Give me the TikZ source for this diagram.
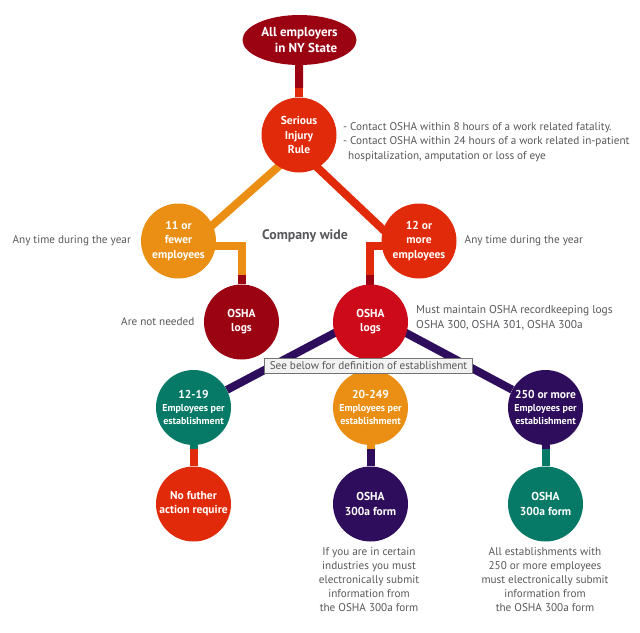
\documentclass[tikz,border=0pt]{standalone}
\usepackage{fontspec}
\setmainfont{PT Sans}
\usetikzlibrary{backgrounds,calc,shapes.geometric}
\definecolor{dred}{HTML}{9B0313}
\definecolor{ored}{HTML}{E12A09}
\definecolor{orng}{HTML}{EA8F14}
\definecolor{crim}{HTML}{CC0A1A}
\definecolor{teal2}{HTML}{067A66}
\definecolor{purp}{HTML}{2E0D5C}
\definecolor{gtxt}{HTML}{58585C}
\newcommand{\liftlines}[1]{\raisebox{2pt}{\begin{tabular}{@{}c@{}}#1\end{tabular}}}
\tikzset{
  x=1pt,y=-1pt,
  circ/.style={circle,minimum size=75pt,inner sep=0pt,text=white,align=center,font=\fontsize{11.5}{14.2}\selectfont\bfseries},
  smallcirc/.style={circ,font=\fontsize{10}{13.5}\selectfont\bfseries},
  note/.style={text=gtxt,font=\fontsize{11.2}{14.2}\selectfont,inner sep=0pt},
  link/.style={line width=8pt,line cap=butt,line join=miter},
}
\begin{document}
\begin{tikzpicture}
\useasboundingbox (0,0) rectangle (640,632);
\node[ellipse,minimum width=114pt,minimum height=50pt,inner sep=0pt,fill=dred,text=white,align=center,font=\fontsize{13}{15.5}\selectfont\bfseries] (top) at (299.5,40) {All employers\\\hspace*{13pt}in NY State};
\node[circ,fill=ored] (rule) at (299,135) {Serious\\Injury\\Rule};
\node[circ,fill=orng] (few) at (178.5,241) {\liftlines{11 or\\fewer\\employees}};
\node[circ,fill=ored] (many) at (419,241) {\liftlines{12 or\\more\\employees}};
\node[circ,fill=dred] (logsL) at (241.5,322) {OSHA\\logs};
\node[circ,fill=crim] (logsR) at (370.5,322) {OSHA\\logs};
\node[smallcirc,fill=teal2] (e12) at (193.5,407.5) {{\fontsize{11.5}{14}\selectfont 12-19}\\[-1pt]Employees per\\establishment};
\node[smallcirc,fill=orng] (e20) at (370.5,407.5) {{\fontsize{11.5}{14}\selectfont 20-249}\\[-1pt]Employees per\\establishment};
\node[smallcirc,fill=purp] (e250) at (545.5,407.5) {{\fontsize{11.5}{14}\selectfont 250 or more}\\[-1pt]Employees per\\establishment};
\node[circ,fill=ored] (none) at (193.5,504) {\liftlines{No futher\\action require}};
\node[circ,fill=purp] (f20) at (370.5,504) {OSHA\\300a form};
\node[circ,fill=teal2] (f250) at (545.5,504) {OSHA\\300a form};

\coordinate (m1) at (299,88);
\coordinate (c1) at (241.5,245.5);
\coordinate (c1b) at (241.5,275);
\coordinate (c2) at (370,245.5);
\coordinate (c2b) at (370,275);
\coordinate (m12) at (193.5,449);
\coordinate (m20) at (370.5,449);
\coordinate (m250) at (545.5,449);
\begin{scope}[on background layer]
\draw[link,dred] (top) -- (m1);
\draw[link,ored] (m1) -- (rule);
\draw[link,orng] ($(rule)+(15,0)$) -- ($(few)+(16,0)$);
\draw[link,ored] ($(rule)+(-16,0)$) -- ($(many)+(-24,0)$);
\draw[link,orng] (few.center |- c1) -- (c1) -- (c1b);
\draw[link,dred] (c1b) -- (logsL);
\draw[link,ored] (many.center |- c2) -- (c2) -- (c2b);
\draw[link,dred] (c2b) -- (c2b |- logsR);
\draw[link,purp] ($(logsR)+(0,-8)$) -- (e12);
\draw[link,purp] ($(logsR)+(0,-8)$) -- (e250);
\draw[link,teal2] (e12) -- (m12);
\draw[link,ored] (m12) -- (none);
\draw[link,orng] (e20) -- (m20);
\draw[link,purp] (m20) -- (f20);
\draw[link,purp] (e250) -- (m250);
\draw[link,teal2] (m250) -- (f250);
\end{scope}

\node[note,anchor=north west,align=left] (n1) at (343,122.5) {- Contact OSHA within 8 hours of a work related fatality.\\- Contact OSHA within 24 hours of a work related in-patient\\\hspace*{5pt}hospitalization, amputation or loss of eye};
\node[note,anchor=east] (n2) at (131,240.5) {Any time during the year};
\node[note,anchor=west] (n3) at (464.5,240.5) {Any time during the year};
\node[note,anchor=east] (n4) at (194.5,321.5) {Are not needed};
\node[note,anchor=north west,align=left,font=\fontsize{11.4}{14.2}\selectfont] (n5) at (416,305.5) {Must maintain OSHA recordkeeping logs\\OSHA 300, OSHA 301, OSHA 300a};
\node[note,font=\fontsize{13.8}{14}\selectfont\bfseries,text=gtxt] (n6) at (305,236) {Company wide};
\node[note,align=center,anchor=north] (n7) at (369,547) {If you are in certain\\industries you must\\electronically submit\\information from\\the OSHA 300a form};
\node[note,align=center,anchor=north] (n8) at (545,547) {All establishments with\\250 or more employees\\must electronically submit\\information from\\the OSHA 300a form};
\node[fill=black!5,draw=black!55,line width=0.7pt,minimum width=208pt,minimum height=15pt,inner sep=0pt,text=gtxt,font=\fontsize{11.2}{12}\selectfont] (lbl) at (368.5,365.5) {See below for definition of establishment};
\end{tikzpicture}
\end{document}
